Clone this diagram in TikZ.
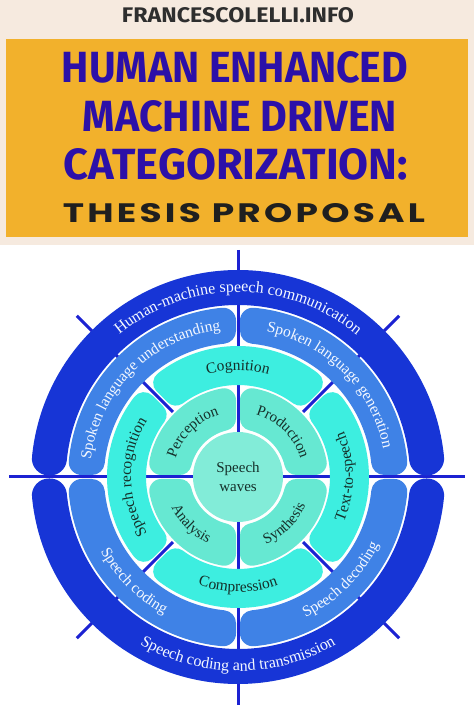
\documentclass[tikz,border=0pt]{standalone}
\usepackage{fontspec}
\usepackage{graphicx}
\setmainfont{Liberation Serif}
\newfontfamily\titlefont{Fira Sans}
\newfontfamily\thesisfont{Poppins}[LetterSpace=9]
\usetikzlibrary{decorations.text}
\definecolor{cream}{HTML}{F6EADF}
\definecolor{orangebox}{HTML}{F2B12C}
\definecolor{titleblue}{HTML}{2C10A8}
\definecolor{sitegray}{HTML}{2E2E2E}
\definecolor{darkring}{HTML}{1735D6}
\definecolor{midring}{HTML}{3F82E6}
\definecolor{cyanring}{HTML}{3DEEE0}
\definecolor{aquaring}{HTML}{66E8D2}
\definecolor{corecol}{HTML}{82ECD8}
\definecolor{lineblue}{HTML}{1C22D2}
\definecolor{darktxt}{HTML}{15302A}
\definecolor{lighttxt}{HTML}{F4F8FF}
% #1 start split angle, #2 end split angle, #3 inner r, #4 outer r, #5 corner radius, #6 half gap, #7 colour
\newcommand\ringseg[7]{%
  \pgfmathsetmacro\rsO{#4-#5}%
  \pgfmathsetmacro\rsI{#3+#5}%
  \pgfmathsetmacro\rsdO{asin((#5+#6)/\rsO)}%
  \pgfmathsetmacro\rsdI{asin((#5+#6)/\rsI)}%
  \pgfmathsetmacro\rsA{#1+\rsdO}%
  \pgfmathsetmacro\rsB{#2-\rsdO}%
  \pgfmathsetmacro\rsC{#2-\rsdI}%
  \pgfmathsetmacro\rsD{#1+\rsdI}%
  \pgfmathsetmacro\rsW{2*#5}%
  \filldraw[fill=#7, draw=#7, line width=\rsW pt, line join=round]
    (\rsA:\rsO) arc[start angle=\rsA, end angle=\rsB, radius=\rsO]
    -- (\rsC:\rsI) arc[start angle=\rsC, end angle=\rsD, radius=\rsI] -- cycle;
}
\newcommand\lighttext{\fontsize{16}{16}\selectfont\color{lighttxt}}
\newcommand\lighttextb{\fontsize{15.5}{15.5}\selectfont\color{lighttxt}}
\newcommand\darktext{\fontsize{15.5}{15.5}\selectfont\color{darktxt}}
\newcommand\darktextb{\fontsize{15}{15}\selectfont\color{darktxt}}
\tikzset{
  arctext/.style={decorate, decoration={text along path, text align=center, text={#1}}},
  axisline/.style={draw=lineblue, line width=3pt},
  titlenode/.style={anchor=base, inner sep=0pt}
}
\begin{document}
\begin{tikzpicture}[x=1pt,y=1pt]
\useasboundingbox (0,0) rectangle (474,711);
\fill[white] (0,0) rectangle (474,711);
\fill[cream] (0,466) rectangle (474,711);
\fill[orangebox] (6,474) rectangle (468,672);

\node[titlenode, text=sitegray] (site) at (238,688) {\resizebox{232pt}{15pt}{\titlefont\bfseries FRANCESCOLELLI.INFO}};
\node[titlenode, text=titleblue] (t1) at (235,628) {\resizebox{346pt}{31pt}{\titlefont\bfseries HUMAN ENHANCED}};
\node[titlenode, text=titleblue] (t2) at (240,579) {\resizebox{314pt}{31pt}{\titlefont\bfseries MACHINE DRIVEN}};
\node[titlenode, text=titleblue] (t3) at (236,531) {\resizebox{344pt}{31pt}{\titlefont\bfseries CATEGORIZATION:}};
\node[titlenode, text=black!88] (t4) at (244,488) {\resizebox{362pt}{19pt}{\thesisfont\bfseries THESIS PROPOSAL}};

\begin{scope}[shift={(238,234)}]
  % axis lines
  \coordinate (W) at (-229,0);
  \coordinate (E) at (227,0);
  \coordinate (N) at (0,227);
  \coordinate (S) at (0,-228);
  \draw[axisline] (W) -- (E);
  \draw[axisline] (N) -- (S);
  \foreach \a in {45,135,225,315}{
    \coordinate (d1\a) at (\a:92);
    \coordinate (d2\a) at (\a:228);
    \draw[axisline] (d1\a) -- (d2\a);
  }
  % outer ring
  \ringseg{0}{180}{172}{207}{17}{1.5}{darkring}
  \ringseg{180}{360}{172}{207}{17}{1.5}{darkring}
  % third ring
  \ringseg{0}{90}{134}{170}{13}{2}{midring}
  \ringseg{90}{180}{134}{170}{13}{2}{midring}
  \ringseg{180}{270}{134}{170}{13}{2}{midring}
  \ringseg{270}{360}{134}{170}{13}{2}{midring}
  % second ring
  \ringseg{45}{135}{92}{131}{12}{3}{cyanring}
  \ringseg{135}{225}{92}{131}{12}{3}{cyanring}
  \ringseg{225}{315}{92}{131}{12}{3}{cyanring}
  \ringseg{-45}{45}{92}{131}{12}{3}{cyanring}
  % first ring
  \ringseg{0}{90}{48}{90}{12}{2}{aquaring}
  \ringseg{90}{180}{48}{90}{12}{2}{aquaring}
  \ringseg{180}{270}{48}{90}{12}{2}{aquaring}
  \ringseg{270}{360}{48}{90}{12}{2}{aquaring}
  % core
  \fill[corecol] (0,0) circle[radius=45];
  \node[anchor=base, inner sep=0pt, font=\fontsize{15}{15}\selectfont, text=darktxt] (sw1) at (0,4) {Speech};
  \node[anchor=base, inner sep=0pt, font=\fontsize{15}{15}\selectfont, text=darktxt] (sw2) at (0,-15) {waves};

  % texts, outer ring
  \path[arctext={|\lighttext|Human-machine speech communication}] (180:185) arc[start angle=180, end angle=0, radius=185];
  \path[arctext={|\lighttext|Speech coding and transmission}] (180:194) arc[start angle=180, end angle=360, radius=194];
  % third ring
  \path[arctext={|\lighttextb|Spoken language understanding}] (180:148) arc[start angle=180, end angle=90, radius=148];
  \path[arctext={|\lighttextb|Spoken language generation}] (90:148) arc[start angle=90, end angle=0, radius=148];
  \path[arctext={|\lighttextb|Speech coding}] (180:156) arc[start angle=180, end angle=270, radius=156];
  \path[arctext={|\lighttextb|Speech decoding}] (270:156) arc[start angle=270, end angle=360, radius=156];
  % second ring
  \path[arctext={|\darktext|Cognition}] (135:107) arc[start angle=135, end angle=45, radius=107];
  \path[arctext={|\darktext|Compression}] (225:115) arc[start angle=225, end angle=315, radius=115];
  \path[arctext={|\darktext|Speech recognition}] (225:107) arc[start angle=225, end angle=135, radius=107];
  \path[arctext={|\darktext|Text-to-speech}] (-45:115) arc[start angle=-45, end angle=45, radius=115];
  % first ring
  \path[arctext={|\darktextb|Perception}] (180:65) arc[start angle=180, end angle=90, radius=65];
  \path[arctext={|\darktextb|Production}] (90:65) arc[start angle=90, end angle=0, radius=65];
  \path[arctext={|\darktextb|Analysis}] (180:73) arc[start angle=180, end angle=270, radius=73];
  \path[arctext={|\darktextb|Synthesis}] (270:73) arc[start angle=270, end angle=360, radius=73];
\end{scope}
\end{tikzpicture}
\end{document}
